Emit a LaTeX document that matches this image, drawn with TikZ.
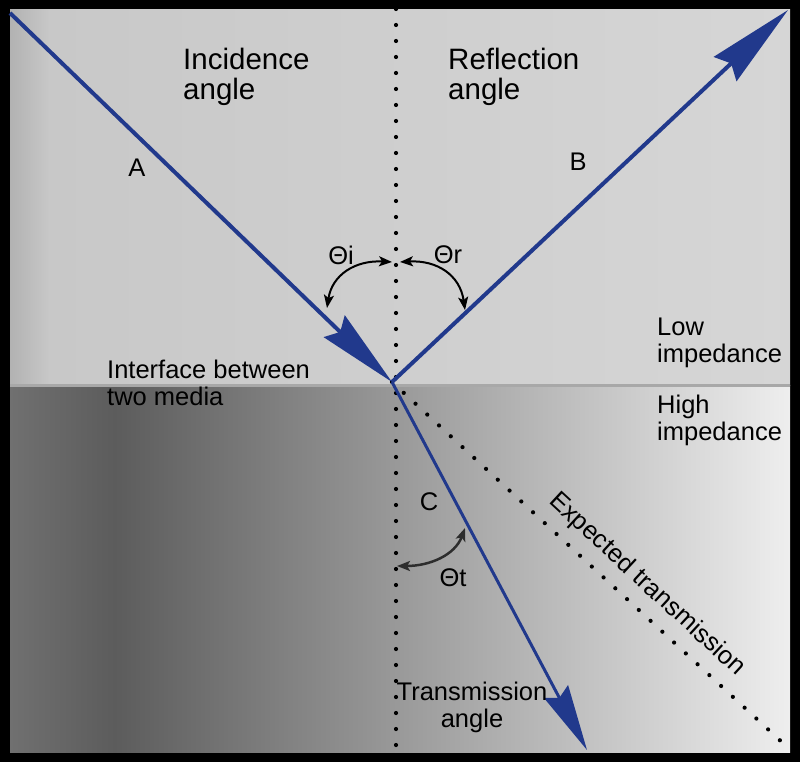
\documentclass[tikz,border=0pt]{standalone}
\usepackage{fontspec}
\setmainfont{Liberation Sans}
\usetikzlibrary{arrows.meta}
\definecolor{rayblue}{RGB}{33,57,140}
\definecolor{upA}{RGB}{178,178,178}
\definecolor{upB}{RGB}{200,200,200}
\definecolor{upC}{RGB}{214,214,214}
\definecolor{lowA}{RGB}{112,112,112}
\definecolor{lowB}{RGB}{92,92,92}
\definecolor{lowC}{RGB}{238,238,238}
\definecolor{seam}{RGB}{168,168,168}
\tikzstyle{ray} = [draw,rayblue,line width=4pt]
\tikzstyle{dotline} = [draw,line width=4.2pt,line cap=round,dash pattern=on 0pt off 16pt]
\tikzstyle{anglearc} = [draw,line width=2pt,{Stealth[length=13pt,width=10pt,inset=3pt]}-{Stealth[length=13pt,width=10pt,inset=3pt]}]
\tikzstyle{bigtext} = [font=\fontsize{29.5}{29.5}\selectfont,align=left,inner sep=0pt,anchor=north west]
\tikzstyle{smalltext} = [font=\fontsize{25.5}{26.5}\selectfont,inner sep=0pt]

\begin{document}
\begin{tikzpicture}[x=1pt,y=-1pt]
    % Frame and the two media
    \useasboundingbox (0,0) rectangle (800,762);
    \fill[black] (0,0) rectangle (800,762);
    \shade[left color=upA,right color=upB] (10,10) rectangle (50,385);
    \shade[left color=upB,right color=upC] (49.5,10) rectangle (790,385);
    \shade[left color=lowA,right color=lowB] (10,385) rectangle (115,752);
    \shade[left color=lowB,right color=lowC] (114.5,385) rectangle (790,752);
    \draw[seam,line width=3pt] (10,385) -- (790,385);

    % Points of the rays
    \coordinate (P) at (392,382);
    \coordinate (Ain) at (10,13);
    \coordinate (Bout) at (788,10);
    \coordinate (Cout) at (587,750);
    \coordinate (Eout) at (785,745);
    \coordinate (Ntop) at (396,9);
    \coordinate (Nbot) at (396,752);

    % Normal and expected transmission
    \path[dotline] (Ntop) -- (Nbot);
    \path[dotline] (P) -- (Eout)
        node[smalltext,sloped,above=10pt,pos=0.607] (exp) {Expected transmission};

    % Rays A, B and C
    \path[ray,-{Stealth[length=80pt,width=30pt,inset=8pt]}] (Ain) -- (P);
    \path[ray,-{Stealth[length=86pt,width=33pt,inset=8pt]}] (P) -- (Bout);
    \path[ray,line width=3pt,-{Stealth[length=66pt,width=27pt,inset=7pt]}] (P) -- (Cout);

    % Angle arcs
    \coordinate (ia) at (327,308);
    \coordinate (ib) at (392,262);
    \coordinate (ra) at (400,262);
    \coordinate (rb) at (465,310);
    \coordinate (ta) at (465,528);
    \coordinate (tb) at (397,566);
    \path[anglearc] (ia) .. controls (332,275) and (355,260) .. (ib);
    \path[anglearc] (ra) .. controls (437,260) and (460,275) .. (rb);
    \path[anglearc,gray!35!black,line width=2.5pt] (ta) .. controls (455,555) and (430,566) .. (tb);

    % Labels
    \foreach \pos/\name/\txt in {{(183,48)/inc/Incidence\\angle}, {(448,48)/refl/Reflection\\angle}}
        \node[bigtext] (\name) at \pos {\txt};
    \foreach \pos/\name/\txt in {{(107,360)/iface/Interface between\\two media}, {(657,318)/low/Low\\impedance}, {(657,395)/high/High\\impedance}}
        \node[smalltext,align=left,anchor=north west] (\name) at \pos {\txt};
    \node[smalltext,align=center,anchor=north] (trans) at (472,682) {Transmission\\angle};
    \foreach \pos/\name in {{(137,168)/A}, {(578,162)/B}, {(429,502)/C}}
        \node[smalltext] (\name) at \pos {\name};
    \foreach \pos/\name/\txt in {{(341,255)/thi/Θi}, {(448,255)/thr/Θr}, {(453,578)/tht/Θt}}
        \node[smalltext] (\name) at \pos {\txt};

\end{tikzpicture}
\end{document}
